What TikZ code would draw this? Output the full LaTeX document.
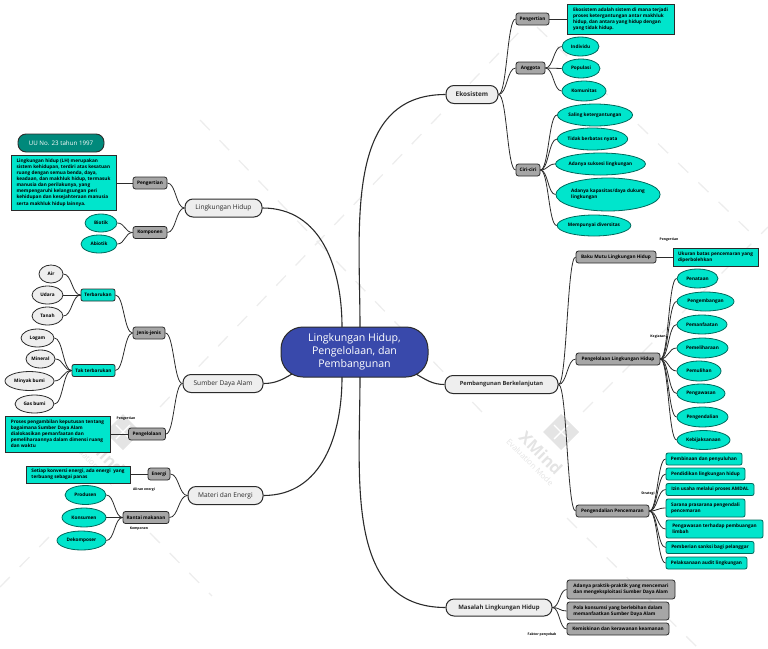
\documentclass[tikz,border=0pt]{standalone}
\usepackage{fontspec}
\setmainfont{Open Sans}
\usetikzlibrary{calc,shapes.geometric}
\definecolor{hubblue}{HTML}{3949AB}
\definecolor{aqua}{HTML}{00E5CC}
\definecolor{darkaqua}{HTML}{00695C}
\definecolor{lawteal}{HTML}{00897B}
\definecolor{subgray}{HTML}{A6A6A6}
\definecolor{pale}{HTML}{EEEEEE}
\definecolor{ink}{HTML}{2B2B2B}
\definecolor{wmgray}{HTML}{E4E4E4}
\definecolor{wmline}{HTML}{EDEDED}
\tikzset{
  wh/.style 2 args={minimum width=#1,minimum height=#2},
  hcurve/.style={to path={let \p1=(\tikztostart), \p2=(\tikztotarget) in
    .. controls (\x1*0.5+\x2*0.5,\y1) and (\x1*0.5+\x2*0.5,\y2) .. (\tikztotarget)}},
  link/.style={draw=ink, line width=0.8},
  thick link/.style={draw=ink, line width=1.1},
  hub/.style={draw=ink, fill=hubblue, text=white, rounded corners=22, line width=1, align=center, inner sep=0, font=\fontsize{10.6}{13.2}\selectfont},
  topic/.style={draw=ink, fill=pale, rounded corners=8, line width=1, inner sep=0, text=ink, font=\fontsize{6.6}{8}\selectfont},
  subtopic/.style={draw=ink, fill=subgray, rounded corners=2.5, line width=0.8, inner sep=0, align=left, font=\bfseries\fontsize{4.7}{6}\selectfont},
  textbox/.style={draw=ink, fill=aqua, line width=0.8, inner sep=0, align=left, font=\bfseries\fontsize{4.7}{6.1}\selectfont},
  leaf/.style={ellipse, draw=darkaqua, fill=aqua, line width=0.8, inner sep=0, align=left, font=\bfseries\fontsize{4.7}{6}\selectfont},
  paleleaf/.style={ellipse, draw=ink, fill=pale, line width=0.8, inner sep=0, font=\bfseries\fontsize{4.7}{6}\selectfont},
  tealtag/.style={draw=darkaqua, fill=aqua, rounded corners=2, line width=0.8, inner sep=0, align=left, font=\bfseries\fontsize{4.7}{6}\selectfont},
  tag/.style={inner sep=0, font=\bfseries\fontsize{3.4}{4}\selectfont},
  wmdash/.style={draw=wmline, line width=1.3, dash pattern=on 14 off 14},
  wmtext/.style={text=wmgray, rotate=-45, inner sep=0}
}
\begin{document}
\begin{tikzpicture}[x=1pt,y=-1pt]
\useasboundingbox (0,0) rectangle (768,648);

% watermark
\foreach \ax/\ay/\bx/\by in {160/407/523/28, 583/412/768/227, 0/587/52/534,
    200/120/482/412, 537/27/753/235, 567/518/702/652, 150/533/212/596}
  \draw[wmdash] (\ax,\ay) -- (\bx,\by);
\foreach \dx in {0,-438} {
  \begin{scope}[xshift=\dx]
    \fill[wmgray] (561,414) -- (579,432) -- (561,450) -- (543,432) -- cycle;
    \draw[white, line width=1.4] (554,425) -- (568,439) (568,425) -- (554,439);
    \node[wmtext, font=\bfseries\fontsize{16.5}{16.5}\selectfont] at (541,453) {XMind};
    \node[wmtext, font=\fontsize{8}{8}\selectfont] at (530,462) {Evaluation Mode};
  \end{scope}
}

% centre and main branches
\node[hub, wh={147}{50}] (hub) at (354.5,352) {Lingkungan Hidup,\\Pengelolaan, dan\\Pembangunan};
\node[topic, wh={77}{18}] (hidup) at (223.5,208) {Lingkungan Hidup};
\node[topic, wh={80}{18}] (alam) at (223,383.5) {Sumber Daya Alam};
\node[topic, wh={75}{18}] (energi) at (225.5,495.5) {Materi dan Energi};
\node[topic, wh={52}{18}, font=\bfseries\fontsize{6.4}{8}\selectfont] (eko) at (472,94.5) {Ekosistem};
\node[topic, wh={113}{18}, font=\bfseries\fontsize{5.7}{8}\selectfont] (bangun) at (501.5,384.5) {Pembangunan Berkelanjutan};
\node[topic, wh={106}{17}, font=\bfseries\fontsize{6}{8}\selectfont] (masalah) at (499,607.5) {Masalah Lingkungan Hidup};

\coordinate (hubTL) at (342,327);
\coordinate (hubTR) at (360,327);
\coordinate (hubBL) at (342,377);
\coordinate (hubBR) at (360,377);
\coordinate (hubSW) at (292,374);
\coordinate (hubSE) at (416,374);

\draw[thick link] (hidup.east) to[out=0,in=90,looseness=1.05] (hubTL);
\draw[thick link] (energi.east) to[out=0,in=-90,looseness=1.05] (hubBL);
\draw[thick link] (eko.west) to[out=180,in=90,looseness=1.05] (hubTR);
\draw[thick link] (masalah.west) to[out=180,in=-90,looseness=1.05] (hubBR);
\draw[thick link] (alam.east) to[out=0,in=-150] (hubSW);
\draw[thick link] (bangun.west) to[out=180,in=-30] (hubSE);

% Lingkungan Hidup
\node[draw=ink, fill=lawteal, rounded corners=8, line width=0.9, inner sep=0, text=white, wh={86}{18}, font=\fontsize{6.2}{8}\selectfont] (uu) at (61,143) {UU No. 23 tahun 1997};
\node[textbox, wh={105}{55}] (hidupDef) at (63.5,182.5) {Lingkungan hidup (LH) merupakan\\sistem kehidupan, terdiri atas kesatuan\\ruang dengan semua benda, daya,\\keadaan, dan makhluk hidup, termasuk\\manusia dan perilakunya, yang\\mempengaruhi kelangsungan peri\\kehidupan dan kesejahteraan manusia\\serta makhluk hidup lainnya.};
\node[subtopic, wh={34}{12}] (hidupArti) at (150,183) {Pengertian};
\node[subtopic, wh={34}{12}] (hidupKomp) at (150,232.5) {Komponen};
\node[leaf, wh={32}{18}] (biotik) at (101,223) {Biotik};
\node[leaf, wh={36}{18}] (abiotik) at (99,244) {Abiotik};

\foreach \kid in {hidupArti,hidupKomp}
  \draw[link] (hidup.west) to[hcurve] (\kid.east);
\draw[link] (hidupArti.west) -- (hidupDef.east |- hidupArti.west);
\foreach \kid in {biotik,abiotik}
  \draw[link] (hidupKomp.west) to[hcurve] (\kid.east);

% Sumber Daya Alam
\node[subtopic, wh={32}{12}] (alamJenis) at (149,333) {Jenis-jenis};
\node[subtopic, wh={37}{12}] (alamKelola) at (147,434) {Pengelolaan};
\node[tealtag, wh={34}{12}, draw=ink] (baru) at (98,295) {Terbarukan};
\node[tealtag, wh={43}{12}, draw=ink] (takbaru) at (93.5,370.5) {Tak terbarukan};
\node[paleleaf, wh={24}{18}] (air) at (51,274) {Air};
\node[paleleaf, wh={31}{18}] (udara) at (47.5,295) {Udara};
\node[paleleaf, wh={31}{18}] (tanah) at (47.5,316) {Tanah};
\node[paleleaf, wh={33}{18}] (logam) at (37.5,338) {Logam};
\node[paleleaf, wh={29}{18}] (mineral) at (40.5,359) {Mineral};
\node[paleleaf, wh={49}{19}] (minyak) at (29.5,381) {Minyak bumi};
\node[paleleaf, wh={39}{18}] (gas) at (34.5,404) {Gas bumi};
\node[textbox, wh={105}{36}] (kelolaDef) at (57.5,434) {Proses pengambilan keputusan tentang\\bagaimana Sumber Daya Alam\\dialokasikan pemanfaatan dan\\pemeliharaannya dalam dimensi ruang\\dan waktu};
\node[tag] (kelolaTag) at (126,419) {Pengertian};

\foreach \kid in {alamJenis,alamKelola}
  \draw[link] (alam.west) to[hcurve] (\kid.east);
\foreach \kid in {baru,takbaru}
  \draw[link] (alamJenis.west) to[hcurve] (\kid.east);
\foreach \kid in {air,udara,tanah}
  \draw[link] (baru.west) to[hcurve] (\kid.east);
\foreach \kid in {logam,mineral,minyak,gas}
  \draw[link] (takbaru.west) to[hcurve] (\kid.east);
\draw[link] (alamKelola.west) -- (kelolaDef.east |- alamKelola.west);

% Materi dan Energi
\node[subtopic, wh={22}{12}] (energiSub) at (159,474) {Energi};
\node[subtopic, wh={46}{12}] (rantai) at (146,517.5) {Rantai makanan};
\node[textbox, wh={104}{17}] (energiDef) at (78,474.5) {Setiap konversi energi, ada energi~ yang\\terbuang sebagai panas};
\node[leaf, wh={41}{19}] (produsen) at (85.5,495) {Produsen};
\node[leaf, wh={44}{19}] (konsumen) at (84,517.5) {Konsumen};
\node[leaf, wh={49}{19}] (dekomposer) at (81.5,540.5) {Dekomposer};
\node[tag] (aliranTag) at (144,490) {Aliran energi};
\node[tag] (kompTag) at (139,529) {Komponen};

\foreach \kid in {energiSub,rantai}
  \draw[link] (energi.west) to[hcurve] (\kid.east);
\draw[link] (energiSub.west) -- (energiDef.east |- energiSub.west);
\foreach \kid in {produsen,konsumen,dekomposer}
  \draw[link] (rantai.west) to[hcurve] (\kid.east);

% Ekosistem
\node[subtopic, wh={33}{12}] (ekoArti) at (532.5,19) {Pengertian};
\node[subtopic, wh={29}{12}] (ekoAnggota) at (530.5,68) {Anggota};
\node[subtopic, wh={24}{12}] (ekoCiri) at (528,170) {Ciri-ciri};
\node[textbox, wh={107}{30}] (ekoDef) at (620.5,19) {Ekosistem adalah sistem di mana terjadi\\proses ketergantungan antar makhluk\\hidup, dan antara yang hidup dengan\\yang tidak hidup.};
\node[leaf, wh={37}{19}] (individu) at (580.5,46.5) {Individu};
\node[leaf, wh={38}{19}] (populasi) at (581,68.5) {Populasi};
\node[leaf, wh={44}{20}] (komunitas) at (584,91) {Komunitas};
\node[leaf, wh={74}{22}] (ciriA) at (595,115) {Saling ketergantungan};
\node[leaf, wh={69}{22}] (ciriB) at (592.5,139) {Tidak berbatas nyata};
\node[leaf, wh={85}{22}] (ciriC) at (600.5,164) {Adanya suksesi lingkungan};
\node[leaf, wh={100}{33}] (ciriD) at (608,194.5) {Adanya kapasitas/daya dukung\\lingkungan};
\node[leaf, wh={72}{21}] (ciriE) at (594,225.5) {Mempunyai diversitas};

\foreach \kid in {ekoArti,ekoAnggota,ekoCiri}
  \draw[link] (eko.east) to[hcurve] (\kid.west);
\draw[link] (ekoArti.east) -- (ekoDef.west |- ekoArti.east);
\foreach \kid in {individu,populasi,komunitas}
  \draw[link] (ekoAnggota.east) to[hcurve] (\kid.west);
\foreach \kid in {ciriA,ciriB,ciriC,ciriD,ciriE}
  \draw[link] (ekoCiri.east) to[hcurve] (\kid.west);

% Pembangunan Berkelanjutan
\node[subtopic, wh={80}{12}] (baku) at (616,257) {Baku Mutu Lingkungan Hidup};
\node[subtopic, wh={84}{12}] (kelola) at (618,359) {Pengelolaan Lingkungan Hidup};
\node[subtopic, wh={73}{12}] (cemar) at (612.5,511) {Pengendalian Pencemaran};
\node[textbox, wh={85}{18}] (bakuDef) at (715.5,257) {Ukuran batas pencemaran yang\\diperbolehkan};
\node[tag] (bakuTag) at (669,240) {Pengertian};
\node[tag] (kelolaKeg) at (658,337) {Kegiatan};
\node[tag] (cemarTag) at (648,494) {Strategi};

\node[leaf, wh={41}{19}] (kgA) at (697.5,278.5) {Penataan};
\node[leaf, wh={57}{19}] (kgB) at (705.5,301.5) {Pengembangan};
\node[leaf, wh={50}{19}] (kgC) at (702,324.5) {Pemanfaatan};
\node[leaf, wh={51}{20}] (kgD) at (702.5,348) {Pemeliharaan};
\node[leaf, wh={44}{20}] (kgE) at (699,371) {Pemulihan};
\node[leaf, wh={48}{19}] (kgF) at (701,393.5) {Pengawasan};
\node[leaf, wh={51}{20}] (kgG) at (702.5,417) {Pengendalian};
\node[leaf, wh={53}{19}] (kgH) at (703.5,440) {Kebijaksanaan};

\node[tealtag, wh={76}{12}] (stA) at (704,459) {Pembinaan dan penyuluhan};
\node[tealtag, wh={79}{12}] (stB) at (705.5,474) {Pendidikan lingkungan hidup};
\node[tealtag, wh={88}{12}] (stC) at (710,489.5) {Izin usaha melalui proses AMDAL};
\node[tealtag, wh={79}{18}] (stD) at (705.5,508) {Sarana prasarana pengendali\\pencemaran};
\node[tealtag, wh={97}{18}] (stE) at (714.5,529) {Pengawasan terhadap pembuangan\\limbah};
\node[tealtag, wh={88}{12}] (stF) at (710,547.5) {Pemberian sanksi bagi pelanggar};
\node[tealtag, wh={81}{12}] (stG) at (706.5,563) {Pelaksanaan audit lingkungan};

\foreach \kid in {baku,kelola,cemar}
  \draw[link] (bangun.east) to[hcurve] (\kid.west);
\draw[link] (baku.east) -- (bakuDef.west |- baku.east);
\foreach \kid in {kgA,kgB,kgC,kgD,kgE,kgF,kgG,kgH}
  \draw[link] (kelola.east) to[hcurve] (\kid.west);
\foreach \kid in {stA,stB,stC,stD,stE,stF,stG}
  \draw[link] (cemar.east) to[hcurve] (\kid.west);

% Masalah Lingkungan Hidup
\node[subtopic, wh={108}{19}] (faktorA) at (621,589.5) {Adanya praktik-praktik yang mencemari\\dan mengeksploitasi Sumber Daya Alam};
\node[subtopic, wh={102}{18}] (faktorB) at (618,611) {Pola konsumsi yang berlebihan dalam\\memanfaatkan Sumber Daya Alam};
\node[subtopic, wh={102}{12}] (faktorC) at (618,629) {Kemiskinan dan kerawanan keamanan};
\node[tag] (faktorTag) at (542,635) {Faktor penyebab};

\foreach \kid in {faktorA,faktorB,faktorC}
  \draw[link] (masalah.east) to[hcurve] (\kid.west);

\end{tikzpicture}
\end{document}
